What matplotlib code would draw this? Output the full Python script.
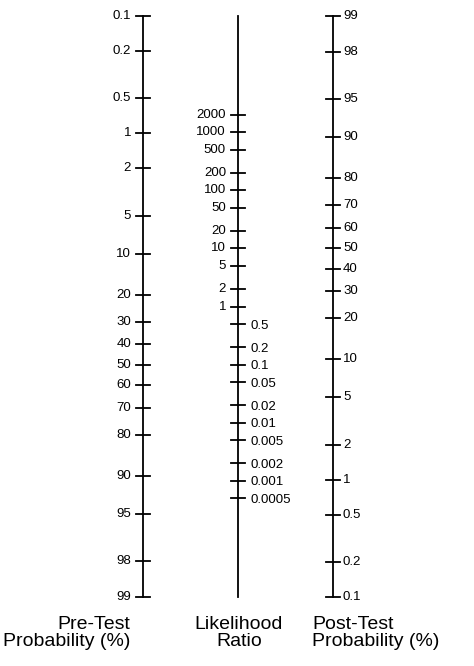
import numpy as np
import matplotlib
matplotlib.use("Agg")
import matplotlib.pyplot as plt

pre_ticks = [0.1, 0.2, 0.5, 1, 2, 5, 10, 20, 30, 40, 50, 60, 70, 80, 90, 95, 98, 99]
pre_labels = ["0.1", "0.2", "0.5", "1", "2", "5", "10", "20", "30", "40", "50", "60", "70", "80", "90", "95", "98", "99"]
lr_ticks = [2000, 1000, 500, 200, 100, 50, 20, 10, 5, 2, 1, 0.5, 0.2, 0.1, 0.05, 0.02, 0.01, 0.005, 0.002, 0.001, 0.0005]
lr_labels = ["2000", "1000", "500", "200", "100", "50", "20", "10", "5", "2", "1", "0.5", "0.2", "0.1", "0.05", "0.02", "0.01", "0.005", "0.002", "0.001", "0.0005"]
post_ticks = [99, 98, 95, 90, 80, 70, 60, 50, 40, 30, 20, 10, 5, 2, 1, 0.5, 0.2, 0.1]
post_labels = ["99", "98", "95", "90", "80", "70", "60", "50", "40", "30", "20", "10", "5", "2", "1", "0.5", "0.2", "0.1"]

def logit(p):
    p = np.asarray(p, float) / 100
    return np.log(p / (1 - p))

ymin, ymax = logit(0.1), logit(99)
shift = ymin + ymax
def pre_y(p): return logit(p)
def post_y(q): return shift - logit(q)
def lr_y(r): return shift / 2 - np.log(np.asarray(r, float)) / 2

fig = plt.figure(figsize=(4.74, 6.66), dpi=100)
ax = fig.add_axes([0, 0, 1, 1])
ax.set_xlim(0, 474)
scale = 581 / (ymax - ymin)
ax.set_ylim(ymin + (666 - 16) / scale, ymin - 16 / scale)
ax.axis("off")
plt.rcParams['font.family'] = ['Liberation Sans', 'DejaVu Sans']
fs = 9.5
lw = 1.3
xl, xm, xr = 143, 238, 333
for x in (xl, xm, xr):
    ax.plot([x, x], [ymin, ymax], color="black", lw=lw)

for v, lab in zip(pre_ticks, pre_labels):
    y = pre_y(v)
    ax.plot([xl - 7, xl + 7], [y, y], color="black", lw=lw)
    ax.text(xl - 12, y, lab, ha="right", va="center", fontsize=fs)
for v, lab in zip(post_ticks, post_labels):
    y = post_y(v)
    ax.plot([xr - 7, xr + 7], [y, y], color="black", lw=lw)
    ax.text(xr + 10, y, lab, ha="left", va="center", fontsize=fs)
for v, lab in zip(lr_ticks, lr_labels):
    y = lr_y(v)
    ax.plot([xm - 7, xm + 7], [y, y], color="black", lw=lw)
    if v >= 1:
        ax.text(xm - 12, y, lab, ha="right", va="center", fontsize=fs)
    else:
        ax.text(xm + 13, y + 0.03, lab, ha="left", va="center", fontsize=fs)

def ypix(p):
    return ymin + (p - 16) / scale
tf = 14
yt = ypix(633)
ax.text(130, yt, "Pre-Test\nProbability (%)", ha="right", va="center", fontsize=tf,
        linespacing=0.95, multialignment="right")
ax.text(239, yt, "Likelihood\nRatio", ha="center", va="center", fontsize=tf,
        linespacing=0.95)
ax.text(312, yt, "Post-Test\nProbability (%)", ha="left", va="center", fontsize=tf,
        linespacing=0.95, multialignment="left")
fig.savefig("out.png", dpi=100)
